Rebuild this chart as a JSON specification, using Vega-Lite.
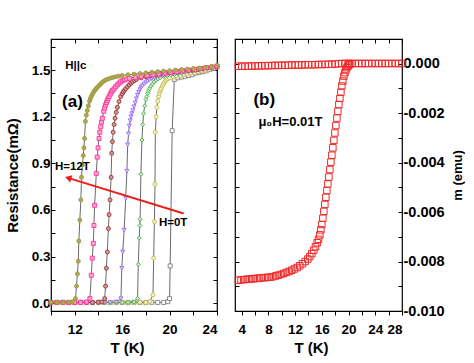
{
  "$schema": "https://vega.github.io/schema/vega-lite/v6.json",
  "background": "white",
  "padding": {"left": 4, "top": 37, "right": 0, "bottom": 0},
  "config": {
    "font": "Liberation Sans",
    "view": {"stroke": "black", "strokeWidth": 1.2},
    "axis": {"grid": false, "domain": false, "tickColor": "black", "tickWidth": 1, "labelFont": "Liberation Sans", "labelFontWeight": "bold", "labelColor": "black", "titleFont": "Liberation Sans", "titleFontWeight": "bold", "titleColor": "black", "labelFontSize": 13.5, "titleFontSize": 15}
  },
  "datasets": {
    "res": [
      {"h":"0T","t":10,"r":0.006},{"h":"0T","t":10.5,"r":0.004},{"h":"0T","t":11,"r":0.006},{"h":"0T","t":11.5,"r":0.005},{"h":"0T","t":12,"r":0.004},{"h":"0T","t":12.5,"r":0.006},{"h":"0T","t":13,"r":0.005},{"h":"0T","t":13.5,"r":0.004},{"h":"0T","t":14,"r":0.006},{"h":"0T","t":14.5,"r":0.005},{"h":"0T","t":15,"r":0.004},{"h":"0T","t":15.5,"r":0.006},{"h":"0T","t":16,"r":0.005},{"h":"0T","t":16.5,"r":0.004},{"h":"0T","t":17,"r":0.006},{"h":"0T","t":17.5,"r":0.005},{"h":"0T","t":18,"r":0.004},{"h":"0T","t":18.5,"r":0.006},{"h":"0T","t":19,"r":0.005},{"h":"0T","t":19.5,"r":0.005},{"h":"0T","t":19.85,"r":0.01},{"h":"0T","t":20.0,"r":0.03},{"h":"0T","t":20.05,"r":0.24},{"h":"0T","t":20.22,"r":1.11},{"h":"0T","t":20.4,"r":1.44},{"h":"0T","t":20.7,"r":1.45},{"h":"0T","t":21.0,"r":1.455},{"h":"0T","t":21.3,"r":1.46},{"h":"0T","t":21.6,"r":1.465},{"h":"0T","t":21.9,"r":1.47},{"h":"0T","t":22.2,"r":1.48},{"h":"0T","t":22.5,"r":1.485},{"h":"0T","t":22.8,"r":1.49},{"h":"0T","t":23.1,"r":1.495},{"h":"0T","t":23.4,"r":1.505},{"h":"0T","t":23.7,"r":1.51},{"h":"0T","t":24.0,"r":1.52},
      {"h":"1T","t":10,"r":0.005},{"h":"1T","t":10.5,"r":0.006},{"h":"1T","t":11,"r":0.004},{"h":"1T","t":11.5,"r":0.006},{"h":"1T","t":12,"r":0.005},{"h":"1T","t":12.5,"r":0.004},{"h":"1T","t":13,"r":0.006},{"h":"1T","t":13.5,"r":0.005},{"h":"1T","t":14,"r":0.004},{"h":"1T","t":14.5,"r":0.006},{"h":"1T","t":15,"r":0.005},{"h":"1T","t":15.5,"r":0.004},{"h":"1T","t":16,"r":0.006},{"h":"1T","t":16.5,"r":0.005},{"h":"1T","t":17,"r":0.004},{"h":"1T","t":17.5,"r":0.006},{"h":"1T","t":18,"r":0.005},{"h":"1T","t":18.35,"r":0.012},{"h":"1T","t":18.6,"r":0.054},{"h":"1T","t":18.66,"r":0.29},{"h":"1T","t":18.72,"r":0.525},{"h":"1T","t":18.77,"r":0.765},{"h":"1T","t":18.8,"r":1.1},{"h":"1T","t":18.87,"r":1.2},{"h":"1T","t":18.93,"r":1.26},{"h":"1T","t":19.0,"r":1.3},{"h":"1T","t":19.07,"r":1.33},{"h":"1T","t":19.14,"r":1.35},{"h":"1T","t":19.21,"r":1.367},{"h":"1T","t":19.28,"r":1.38},{"h":"1T","t":19.38,"r":1.397},{"h":"1T","t":19.48,"r":1.41},{"h":"1T","t":19.6,"r":1.424},{"h":"1T","t":19.7,"r":1.435},{"h":"1T","t":19.85,"r":1.443},{"h":"1T","t":20.0,"r":1.45},{"h":"1T","t":20.3,"r":1.455},{"h":"1T","t":20.6,"r":1.46},{"h":"1T","t":20.9,"r":1.465},{"h":"1T","t":21.2,"r":1.47},{"h":"1T","t":21.5,"r":1.475},{"h":"1T","t":21.8,"r":1.48},{"h":"1T","t":22.1,"r":1.485},{"h":"1T","t":22.4,"r":1.49},{"h":"1T","t":22.7,"r":1.495},{"h":"1T","t":23.0,"r":1.5},{"h":"1T","t":23.3,"r":1.505},{"h":"1T","t":23.6,"r":1.515},{"h":"1T","t":24.0,"r":1.525},
      {"h":"3T","t":10,"r":0.004},{"h":"3T","t":10.5,"r":0.005},{"h":"3T","t":11,"r":0.006},{"h":"3T","t":11.5,"r":0.004},{"h":"3T","t":12,"r":0.006},{"h":"3T","t":12.5,"r":0.005},{"h":"3T","t":13,"r":0.004},{"h":"3T","t":13.5,"r":0.006},{"h":"3T","t":14,"r":0.005},{"h":"3T","t":14.5,"r":0.004},{"h":"3T","t":15,"r":0.006},{"h":"3T","t":15.5,"r":0.005},{"h":"3T","t":16,"r":0.004},{"h":"3T","t":16.5,"r":0.006},{"h":"3T","t":17,"r":0.008},{"h":"3T","t":17.3,"r":0.03},{"h":"3T","t":17.36,"r":0.25},{"h":"3T","t":17.44,"r":0.42},{"h":"3T","t":17.49,"r":0.5},{"h":"3T","t":17.52,"r":0.54},{"h":"3T","t":17.58,"r":0.83},{"h":"3T","t":17.67,"r":1.05},{"h":"3T","t":17.74,"r":1.15},{"h":"3T","t":17.81,"r":1.22},{"h":"3T","t":17.9,"r":1.27},{"h":"3T","t":18.0,"r":1.31},{"h":"3T","t":18.08,"r":1.33},{"h":"3T","t":18.15,"r":1.35},{"h":"3T","t":18.22,"r":1.365},{"h":"3T","t":18.3,"r":1.38},{"h":"3T","t":18.42,"r":1.396},{"h":"3T","t":18.55,"r":1.41},{"h":"3T","t":18.7,"r":1.424},{"h":"3T","t":18.86,"r":1.435},{"h":"3T","t":19.02,"r":1.443},{"h":"3T","t":19.2,"r":1.45},{"h":"3T","t":19.5,"r":1.46},{"h":"3T","t":19.8,"r":1.465},{"h":"3T","t":20.1,"r":1.47},{"h":"3T","t":20.4,"r":1.472},{"h":"3T","t":20.7,"r":1.476},{"h":"3T","t":21.0,"r":1.48},{"h":"3T","t":21.3,"r":1.485},{"h":"3T","t":21.6,"r":1.49},{"h":"3T","t":21.9,"r":1.492},{"h":"3T","t":22.2,"r":1.496},{"h":"3T","t":22.5,"r":1.5},{"h":"3T","t":22.8,"r":1.505},{"h":"3T","t":23.1,"r":1.51},{"h":"3T","t":23.4,"r":1.515},{"h":"3T","t":23.7,"r":1.52},{"h":"3T","t":24.0,"r":1.525},
      {"h":"5T","t":10,"r":0.006},{"h":"5T","t":10.5,"r":0.005},{"h":"5T","t":11,"r":0.004},{"h":"5T","t":11.5,"r":0.006},{"h":"5T","t":12,"r":0.005},{"h":"5T","t":12.5,"r":0.004},{"h":"5T","t":13,"r":0.006},{"h":"5T","t":13.5,"r":0.005},{"h":"5T","t":14,"r":0.004},{"h":"5T","t":14.5,"r":0.006},{"h":"5T","t":15,"r":0.005},{"h":"5T","t":15.5,"r":0.007},{"h":"5T","t":15.9,"r":0.03},{"h":"5T","t":15.97,"r":0.225},{"h":"5T","t":16.05,"r":0.33},{"h":"5T","t":16.17,"r":0.47},{"h":"5T","t":16.3,"r":0.675},{"h":"5T","t":16.4,"r":0.85},{"h":"5T","t":16.47,"r":1.02},{"h":"5T","t":16.54,"r":1.09},{"h":"5T","t":16.6,"r":1.14},{"h":"5T","t":16.68,"r":1.175},{"h":"5T","t":16.75,"r":1.2},{"h":"5T","t":16.82,"r":1.22},{"h":"5T","t":16.9,"r":1.24},{"h":"5T","t":17.0,"r":1.265},{"h":"5T","t":17.1,"r":1.29},{"h":"5T","t":17.2,"r":1.316},{"h":"5T","t":17.3,"r":1.34},{"h":"5T","t":17.4,"r":1.358},{"h":"5T","t":17.5,"r":1.375},{"h":"5T","t":17.6,"r":1.388},{"h":"5T","t":17.7,"r":1.4},{"h":"5T","t":17.85,"r":1.411},{"h":"5T","t":18.0,"r":1.42},{"h":"5T","t":18.15,"r":1.429},{"h":"5T","t":18.3,"r":1.436},{"h":"5T","t":18.5,"r":1.444},{"h":"5T","t":18.7,"r":1.45},{"h":"5T","t":19.1,"r":1.46},{"h":"5T","t":19.5,"r":1.465},{"h":"5T","t":19.9,"r":1.47},{"h":"5T","t":20.3,"r":1.475},{"h":"5T","t":20.7,"r":1.48},{"h":"5T","t":21.1,"r":1.485},{"h":"5T","t":21.5,"r":1.49},{"h":"5T","t":21.9,"r":1.495},{"h":"5T","t":22.3,"r":1.5},{"h":"5T","t":22.7,"r":1.505},{"h":"5T","t":23.1,"r":1.51},{"h":"5T","t":23.5,"r":1.515},{"h":"5T","t":24.0,"r":1.525},
      {"h":"7T","t":10,"r":0.005},{"h":"7T","t":10.5,"r":0.004},{"h":"7T","t":11,"r":0.006},{"h":"7T","t":11.5,"r":0.005},{"h":"7T","t":12,"r":0.004},{"h":"7T","t":12.5,"r":0.006},{"h":"7T","t":13,"r":0.005},{"h":"7T","t":13.5,"r":0.004},{"h":"7T","t":14,"r":0.006},{"h":"7T","t":14.3,"r":0.008},{"h":"7T","t":14.53,"r":0.03},{"h":"7T","t":14.6,"r":0.11},{"h":"7T","t":14.67,"r":0.225},{"h":"7T","t":14.75,"r":0.33},{"h":"7T","t":14.84,"r":0.48},{"h":"7T","t":14.9,"r":0.57},{"h":"7T","t":14.98,"r":0.665},{"h":"7T","t":15.07,"r":0.81},{"h":"7T","t":15.12,"r":0.965},{"h":"7T","t":15.18,"r":1.04},{"h":"7T","t":15.24,"r":1.1},{"h":"7T","t":15.32,"r":1.15},{"h":"7T","t":15.4,"r":1.19},{"h":"7T","t":15.5,"r":1.228},{"h":"7T","t":15.6,"r":1.26},{"h":"7T","t":15.74,"r":1.298},{"h":"7T","t":15.88,"r":1.33},{"h":"7T","t":16.0,"r":1.347},{"h":"7T","t":16.1,"r":1.36},{"h":"7T","t":16.2,"r":1.371},{"h":"7T","t":16.3,"r":1.38},{"h":"7T","t":16.45,"r":1.393},{"h":"7T","t":16.6,"r":1.405},{"h":"7T","t":16.75,"r":1.416},{"h":"7T","t":16.88,"r":1.425},{"h":"7T","t":17.05,"r":1.433},{"h":"7T","t":17.2,"r":1.44},{"h":"7T","t":17.6,"r":1.45},{"h":"7T","t":18.0,"r":1.458},{"h":"7T","t":18.4,"r":1.464},{"h":"7T","t":18.8,"r":1.47},{"h":"7T","t":19.2,"r":1.475},{"h":"7T","t":19.6,"r":1.48},{"h":"7T","t":20.0,"r":1.484},{"h":"7T","t":20.4,"r":1.488},{"h":"7T","t":20.8,"r":1.49},{"h":"7T","t":21.2,"r":1.495},{"h":"7T","t":21.6,"r":1.498},{"h":"7T","t":22.0,"r":1.5},{"h":"7T","t":22.4,"r":1.505},{"h":"7T","t":22.8,"r":1.51},{"h":"7T","t":23.2,"r":1.515},{"h":"7T","t":23.6,"r":1.52},{"h":"7T","t":24.0,"r":1.525},
      {"h":"9T","t":10,"r":0.004},{"h":"9T","t":10.5,"r":0.006},{"h":"9T","t":11,"r":0.005},{"h":"9T","t":11.5,"r":0.004},{"h":"9T","t":12,"r":0.006},{"h":"9T","t":12.5,"r":0.005},{"h":"9T","t":13,"r":0.008},{"h":"9T","t":13.28,"r":0.03},{"h":"9T","t":13.4,"r":0.18},{"h":"9T","t":13.48,"r":0.29},{"h":"9T","t":13.57,"r":0.385},{"h":"9T","t":13.62,"r":0.5},{"h":"9T","t":13.68,"r":0.63},{"h":"9T","t":13.82,"r":0.835},{"h":"9T","t":13.9,"r":0.94},{"h":"9T","t":13.97,"r":1.0},{"h":"9T","t":14.05,"r":1.06},{"h":"9T","t":14.12,"r":1.1},{"h":"9T","t":14.19,"r":1.135},{"h":"9T","t":14.26,"r":1.165},{"h":"9T","t":14.33,"r":1.19},{"h":"9T","t":14.45,"r":1.235},{"h":"9T","t":14.52,"r":1.256},{"h":"9T","t":14.6,"r":1.275},{"h":"9T","t":14.68,"r":1.291},{"h":"9T","t":14.75,"r":1.305},{"h":"9T","t":14.82,"r":1.318},{"h":"9T","t":14.9,"r":1.33},{"h":"9T","t":15.0,"r":1.346},{"h":"9T","t":15.1,"r":1.36},{"h":"9T","t":15.2,"r":1.37},{"h":"9T","t":15.32,"r":1.38},{"h":"9T","t":15.46,"r":1.393},{"h":"9T","t":15.6,"r":1.405},{"h":"9T","t":15.74,"r":1.416},{"h":"9T","t":15.88,"r":1.425},{"h":"9T","t":16.04,"r":1.432},{"h":"9T","t":16.2,"r":1.437},{"h":"9T","t":16.4,"r":1.442},{"h":"9T","t":16.6,"r":1.447},{"h":"9T","t":17.1,"r":1.455},{"h":"9T","t":17.6,"r":1.46},{"h":"9T","t":18.1,"r":1.466},{"h":"9T","t":18.6,"r":1.47},{"h":"9T","t":19.1,"r":1.475},{"h":"9T","t":19.6,"r":1.48},{"h":"9T","t":20.1,"r":1.485},{"h":"9T","t":20.6,"r":1.49},{"h":"9T","t":21.1,"r":1.495},{"h":"9T","t":21.6,"r":1.5},{"h":"9T","t":22.1,"r":1.505},{"h":"9T","t":22.6,"r":1.51},{"h":"9T","t":23.1,"r":1.515},{"h":"9T","t":23.6,"r":1.52},{"h":"9T","t":24.0,"r":1.525},
      {"h":"12T","t":10,"r":0.006},{"h":"12T","t":10.5,"r":0.005},{"h":"12T","t":11,"r":0.004},{"h":"12T","t":11.5,"r":0.006},{"h":"12T","t":11.8,"r":0.01},{"h":"12T","t":12.07,"r":0.03},{"h":"12T","t":12.15,"r":0.11},{"h":"12T","t":12.23,"r":0.19},{"h":"12T","t":12.3,"r":0.27},{"h":"12T","t":12.35,"r":0.4},{"h":"12T","t":12.43,"r":0.535},{"h":"12T","t":12.52,"r":0.665},{"h":"12T","t":12.57,"r":0.81},{"h":"12T","t":12.65,"r":0.89},{"h":"12T","t":12.72,"r":0.95},{"h":"12T","t":12.78,"r":1.0},{"h":"12T","t":12.83,"r":1.06},{"h":"12T","t":12.9,"r":1.17},{"h":"12T","t":12.98,"r":1.21},{"h":"12T","t":13.06,"r":1.24},{"h":"12T","t":13.15,"r":1.27},{"h":"12T","t":13.25,"r":1.3},{"h":"12T","t":13.32,"r":1.316},{"h":"12T","t":13.4,"r":1.33},{"h":"12T","t":13.5,"r":1.346},{"h":"12T","t":13.6,"r":1.36},{"h":"12T","t":13.7,"r":1.37},{"h":"12T","t":13.8,"r":1.38},{"h":"12T","t":13.92,"r":1.39},{"h":"12T","t":14.05,"r":1.4},{"h":"12T","t":14.18,"r":1.41},{"h":"12T","t":14.3,"r":1.42},{"h":"12T","t":14.45,"r":1.428},{"h":"12T","t":14.6,"r":1.436},{"h":"12T","t":14.8,"r":1.442},{"h":"12T","t":15.0,"r":1.448},{"h":"12T","t":15.2,"r":1.452},{"h":"12T","t":15.45,"r":1.457},{"h":"12T","t":15.7,"r":1.461},{"h":"12T","t":16.0,"r":1.465},{"h":"12T","t":16.5,"r":1.47},{"h":"12T","t":17.0,"r":1.474},{"h":"12T","t":17.5,"r":1.478},{"h":"12T","t":18.0,"r":1.482},{"h":"12T","t":18.5,"r":1.486},{"h":"12T","t":19.0,"r":1.49},{"h":"12T","t":19.5,"r":1.493},{"h":"12T","t":20.0,"r":1.496},{"h":"12T","t":20.5,"r":1.5},{"h":"12T","t":21.0,"r":1.503},{"h":"12T","t":21.5,"r":1.506},{"h":"12T","t":22.0,"r":1.51},{"h":"12T","t":22.5,"r":1.513},{"h":"12T","t":23.0,"r":1.517},{"h":"12T","t":23.5,"r":1.522},{"h":"12T","t":24.0,"r":1.53}
    ],
    "mag": [
      {"b":"fc","t":3.5,"m":-0.0001},{"b":"fc","t":4,"m":-0.0001},{"b":"fc","t":4.5,"m":-0.0001},{"b":"fc","t":5,"m":-0.0001},{"b":"fc","t":5.5,"m":-0.00009},{"b":"fc","t":6,"m":-0.00009},{"b":"fc","t":6.5,"m":-0.00009},{"b":"fc","t":7,"m":-0.00008},{"b":"fc","t":7.5,"m":-0.00008},{"b":"fc","t":8,"m":-0.00008},{"b":"fc","t":8.5,"m":-0.00007},{"b":"fc","t":9,"m":-0.00007},{"b":"fc","t":9.5,"m":-0.00007},{"b":"fc","t":10,"m":-0.00006},{"b":"fc","t":10.5,"m":-0.00006},{"b":"fc","t":11,"m":-0.00006},{"b":"fc","t":11.5,"m":-0.00005},{"b":"fc","t":12,"m":-0.00005},{"b":"fc","t":12.5,"m":-0.00005},{"b":"fc","t":13,"m":-0.00005},{"b":"fc","t":13.5,"m":-0.00004},{"b":"fc","t":14,"m":-0.00004},{"b":"fc","t":14.5,"m":-0.00004},{"b":"fc","t":15,"m":-0.00004},{"b":"fc","t":15.5,"m":-0.00003},{"b":"fc","t":16,"m":-0.00003},{"b":"fc","t":16.5,"m":-0.00003},{"b":"fc","t":17,"m":-0.00002},{"b":"fc","t":17.5,"m":-0.00002},{"b":"fc","t":18,"m":-0.00001},{"b":"fc","t":18.5,"m":0},{"b":"fc","t":19,"m":0.00001},{"b":"fc","t":19.5,"m":0.00001},{"b":"fc","t":20,"m":0.00002},{"b":"fc","t":20.5,"m":0.00001},{"b":"fc","t":21,"m":0.00001},{"b":"fc","t":21.5,"m":0.00001},{"b":"fc","t":22,"m":0.00001},{"b":"fc","t":22.5,"m":0.00001},{"b":"fc","t":23,"m":0.00001},{"b":"fc","t":23.5,"m":0.00001},{"b":"fc","t":24,"m":0.00001},{"b":"fc","t":24.5,"m":0.00001},{"b":"fc","t":25,"m":0.00001},{"b":"fc","t":25.5,"m":0.00001},{"b":"fc","t":26,"m":0.00001},{"b":"fc","t":26.5,"m":0.00001},{"b":"fc","t":27,"m":0.00001},{"b":"fc","t":27.5,"m":0.00001},{"b":"fc","t":28,"m":0.00001},
      {"b":"zfc","t":3.5,"m":-0.00876},{"b":"zfc","t":3.9,"m":-0.00874},{"b":"zfc","t":4.3,"m":-0.00873},{"b":"zfc","t":4.7,"m":-0.00872},{"b":"zfc","t":5.1,"m":-0.00871},{"b":"zfc","t":5.5,"m":-0.0087},{"b":"zfc","t":5.9,"m":-0.00869},{"b":"zfc","t":6.3,"m":-0.00868},{"b":"zfc","t":6.7,"m":-0.00867},{"b":"zfc","t":7.1,"m":-0.00866},{"b":"zfc","t":7.5,"m":-0.00865},{"b":"zfc","t":7.9,"m":-0.00864},{"b":"zfc","t":8.3,"m":-0.00863},{"b":"zfc","t":8.7,"m":-0.00861},{"b":"zfc","t":9.1,"m":-0.00858},{"b":"zfc","t":9.5,"m":-0.00855},{"b":"zfc","t":9.9,"m":-0.00852},{"b":"zfc","t":10.3,"m":-0.00848},{"b":"zfc","t":10.7,"m":-0.00844},{"b":"zfc","t":11.1,"m":-0.0084},{"b":"zfc","t":11.5,"m":-0.00835},{"b":"zfc","t":11.9,"m":-0.0083},{"b":"zfc","t":12.3,"m":-0.00824},{"b":"zfc","t":12.7,"m":-0.00817},{"b":"zfc","t":13.1,"m":-0.00809},{"b":"zfc","t":13.5,"m":-0.008},{"b":"zfc","t":13.9,"m":-0.0079},{"b":"zfc","t":14.2,"m":-0.0078},{"b":"zfc","t":14.5,"m":-0.00768},{"b":"zfc","t":14.8,"m":-0.00754},{"b":"zfc","t":15.05,"m":-0.0074},{"b":"zfc","t":15.3,"m":-0.00724},{"b":"zfc","t":15.5,"m":-0.0071},{"b":"zfc","t":15.7,"m":-0.00692},{"b":"zfc","t":15.85,"m":-0.00672},{"b":"zfc","t":16.0,"m":-0.0065},{"b":"zfc","t":16.15,"m":-0.00625},{"b":"zfc","t":16.3,"m":-0.00597},{"b":"zfc","t":16.45,"m":-0.00569},{"b":"zfc","t":16.6,"m":-0.0054},{"b":"zfc","t":16.75,"m":-0.00513},{"b":"zfc","t":16.9,"m":-0.00486},{"b":"zfc","t":17.05,"m":-0.00458},{"b":"zfc","t":17.2,"m":-0.00428},{"b":"zfc","t":17.35,"m":-0.00398},{"b":"zfc","t":17.5,"m":-0.0037},{"b":"zfc","t":17.65,"m":-0.0034},{"b":"zfc","t":17.8,"m":-0.0031},{"b":"zfc","t":17.95,"m":-0.0028},{"b":"zfc","t":18.1,"m":-0.0025},{"b":"zfc","t":18.25,"m":-0.0022},{"b":"zfc","t":18.4,"m":-0.00192},{"b":"zfc","t":18.55,"m":-0.00165},{"b":"zfc","t":18.7,"m":-0.0014},{"b":"zfc","t":18.85,"m":-0.00115},{"b":"zfc","t":19.0,"m":-0.0009},{"b":"zfc","t":19.15,"m":-0.0007},{"b":"zfc","t":19.3,"m":-0.0005},{"b":"zfc","t":19.45,"m":-0.00036},{"b":"zfc","t":19.6,"m":-0.00025},{"b":"zfc","t":19.75,"m":-0.00016},{"b":"zfc","t":19.9,"m":-0.0001},{"b":"zfc","t":20.05,"m":-0.00005},{"b":"zfc","t":20.2,"m":-0.00002}
    ]
  },
  "spacing": 18,
  "bounds": "flush",
  "hconcat": [
    {
      "width": 166,
      "height": 272,
      "resolve": {"axis": {"x": "independent", "y": "independent"}},
      "layer": [
        {
          "data": {"name": "res"},
          "mark": {"type": "line", "color": "#444444", "strokeWidth": 0.8},
          "encoding": {
            "x": {"field": "t", "type": "quantitative", "scale": {"domain": [10, 24], "nice": false, "zero": false},
              "axis": {"orient": "bottom", "values": [10, 12, 14, 16, 18, 20, 22, 24], "labelExpr": "datum.value % 4 == 0 && datum.value > 10 ? datum.label : ''", "tickSize": 4, "labelPadding": 7, "title": "T (K)", "titlePadding": 5, "titleX": 76}},
            "y": {"field": "r", "type": "quantitative", "scale": {"domain": [-0.05, 1.7], "nice": false, "zero": false},
              "axis": {"orient": "left", "values": [0, 0.15, 0.3, 0.45, 0.6, 0.75, 0.9, 1.05, 1.2, 1.35, 1.5, 1.65], "labelExpr": "round(datum.value*100) % 30 == 0 ? format(datum.value, '.1f') : ''", "tickSize": -4, "labelPadding": 5, "title": "Resistance(mΩ)", "titlePadding": 11}},
            "detail": {"field": "h", "type": "nominal"},
            "order": {"field": "t", "type": "quantitative"}
          }
        },
        {
          "data": {"name": "res"},
          "mark": {"type": "point", "size": 16, "strokeWidth": 0.9, "opacity": 1},
          "encoding": {
            "x": {"field": "t", "type": "quantitative", "scale": {"domain": [10, 24], "nice": false, "zero": false}, "axis": null},
            "y": {"field": "r", "type": "quantitative", "scale": {"domain": [-0.05, 1.7], "nice": false, "zero": false}, "axis": null},
            "stroke": {"field": "h", "type": "nominal", "legend": null, "scale": {"domain": ["0T", "1T", "3T", "5T", "7T", "9T", "12T"], "range": ["#808080", "#c4bc4c", "#3fae3f", "#9966ff", "#993333", "#ff3399", "#9c963a"]}},
            "fill": {"field": "h", "type": "nominal", "legend": null, "scale": {"domain": ["0T", "1T", "3T", "5T", "7T", "9T", "12T"], "range": ["#ffffff", "#f2efcc", "#d4efd4", "#e6dcff", "#d49a9a", "#ffa8d2", "#b0aa55"]}},
            "shape": {"field": "h", "type": "nominal", "legend": null, "scale": {"domain": ["0T", "1T", "3T", "5T", "7T", "9T", "12T"], "range": ["square", "circle", "diamond", "triangle-down", "circle", "square", "circle"]}}
          }
        },
        {
          "data": {"name": "res"},
          "mark": {"type": "point", "opacity": 0},
          "encoding": {
            "x": {"field": "t", "type": "quantitative", "scale": {"domain": [10, 24], "nice": false, "zero": false},
              "axis": {"orient": "top", "values": [10, 12, 14, 16, 18, 20, 22, 24], "labels": false, "tickSize": -4, "title": null}},
            "y": {"field": "r", "type": "quantitative", "scale": {"domain": [-0.05, 1.7], "nice": false, "zero": false},
              "axis": {"orient": "right", "values": [0, 0.15, 0.3, 0.45, 0.6, 0.75, 0.9, 1.05, 1.2, 1.35, 1.5, 1.65], "labels": false, "tickSize": -4, "title": null}}
          }
        },
        {
          "data": {"values": [{"x1": 21.19, "y1": 0.577, "x2": 11.5, "y2": 0.805}]},
          "mark": {"type": "rule", "color": "#e8201c", "strokeWidth": 2},
          "encoding": {
            "x": {"field": "x1", "type": "quantitative", "scale": {"domain": [10, 24], "nice": false, "zero": false}, "axis": null},
            "y": {"field": "y1", "type": "quantitative", "scale": {"domain": [-0.05, 1.7], "nice": false, "zero": false}, "axis": null},
            "x2": {"field": "x2"},
            "y2": {"field": "y2"}
          }
        },
        {
          "data": {"values": [{"x": 11.45, "y": 0.806}]},
          "mark": {"type": "point", "shape": "triangle-up", "filled": true, "color": "#e8201c", "size": 55, "angle": 287, "opacity": 1},
          "encoding": {
            "x": {"field": "x", "type": "quantitative", "scale": {"domain": [10, 24], "nice": false, "zero": false}, "axis": null},
            "y": {"field": "y", "type": "quantitative", "scale": {"domain": [-0.05, 1.7], "nice": false, "zero": false}, "axis": null}
          }
        },
        {
          "data": {"values": [{"x": 11.2, "y": 1.528, "txt": "H||c"}, {"x": 10.34, "y": 0.876, "txt": "H=12T"}, {"x": 19.1, "y": 0.513, "txt": "H=0T"}]},
          "mark": {"type": "text", "align": "left", "baseline": "middle", "fontSize": 11.5, "fontWeight": "bold", "color": "black", "font": "Liberation Sans"},
          "encoding": {
            "x": {"field": "x", "type": "quantitative", "scale": {"domain": [10, 24], "nice": false, "zero": false}, "axis": null},
            "y": {"field": "y", "type": "quantitative", "scale": {"domain": [-0.05, 1.7], "nice": false, "zero": false}, "axis": null},
            "text": {"field": "txt"}
          }
        },
        {
          "data": {"values": [{"x": 10.93, "y": 1.293, "txt": "(a)"}]},
          "mark": {"type": "text", "align": "left", "baseline": "middle", "fontSize": 17, "fontWeight": "bold", "color": "black", "font": "Liberation Sans"},
          "encoding": {
            "x": {"field": "x", "type": "quantitative", "scale": {"domain": [10, 24], "nice": false, "zero": false}, "axis": null},
            "y": {"field": "y", "type": "quantitative", "scale": {"domain": [-0.05, 1.7], "nice": false, "zero": false}, "axis": null},
            "text": {"field": "txt"}
          }
        }
      ]
    },
    {
      "width": 167,
      "height": 272,
      "resolve": {"axis": {"x": "independent", "y": "independent"}},
      "layer": [
        {
          "data": {"name": "mag"},
          "mark": {"type": "point", "shape": "square", "filled": false, "color": "#f02828", "size": 42, "strokeWidth": 1, "opacity": 1},
          "encoding": {
            "x": {"field": "t", "type": "quantitative", "scale": {"domain": [3, 28], "nice": false, "zero": false},
              "axis": {"orient": "bottom", "values": [4, 6, 8, 10, 12, 14, 16, 18, 20, 22, 24, 26, 28], "labelExpr": "datum.value % 4 == 0 ? datum.label : ''", "tickSize": 4, "labelPadding": 7, "title": "T (K)", "titlePadding": 5, "titleX": 76}},
            "y": {"field": "m", "type": "quantitative", "scale": {"domain": [-0.01, 0.001], "nice": false, "zero": false},
              "axis": {"orient": "right", "values": [-0.01, -0.009, -0.008, -0.007, -0.006, -0.005, -0.004, -0.003, -0.002, -0.001, 0, 0.001], "labelExpr": "round(datum.value*1000) % 2 == 0 && datum.value < 0.0005 ? replace(format(datum.value, '.3f'), '\u2212', '-') : ''", "tickSize": -4, "labelPadding": 5, "labelFontSize": 14.5, "title": "m (emu)", "titleFontSize": 13, "titleAngle": 270, "titleBaseline": "top", "titlePadding": 7}}
          }
        },
        {
          "data": {"name": "mag"},
          "mark": {"type": "point", "opacity": 0},
          "encoding": {
            "x": {"field": "t", "type": "quantitative", "scale": {"domain": [3, 28], "nice": false, "zero": false},
              "axis": {"orient": "top", "values": [4, 6, 8, 10, 12, 14, 16, 18, 20, 22, 24, 26, 28], "labels": false, "tickSize": -4, "title": null}},
            "y": {"field": "m", "type": "quantitative", "scale": {"domain": [-0.01, 0.001], "nice": false, "zero": false},
              "axis": {"orient": "left", "values": [-0.01, -0.009, -0.008, -0.007, -0.006, -0.005, -0.004, -0.003, -0.002, -0.001, 0, 0.001], "labels": false, "tickSize": -4, "title": null}}
          }
        },
        {
          "data": {"values": [{"x": 5.76, "y": -0.00148, "txt": "(b)"}]},
          "mark": {"type": "text", "align": "left", "baseline": "middle", "fontSize": 17, "fontWeight": "bold", "color": "black", "font": "Liberation Sans"},
          "encoding": {
            "x": {"field": "x", "type": "quantitative", "scale": {"domain": [3, 28], "nice": false, "zero": false}, "axis": null},
            "y": {"field": "y", "type": "quantitative", "scale": {"domain": [-0.01, 0.001], "nice": false, "zero": false}, "axis": null},
            "text": {"field": "txt"}
          }
        },
        {
          "data": {"values": [{"x": 6.5, "y": -0.00236, "txt": "μ₀H=0.01T"}]},
          "mark": {"type": "text", "align": "left", "baseline": "middle", "fontSize": 13, "fontWeight": "bold", "color": "black", "font": "Liberation Sans"},
          "encoding": {
            "x": {"field": "x", "type": "quantitative", "scale": {"domain": [3, 28], "nice": false, "zero": false}, "axis": null},
            "y": {"field": "y", "type": "quantitative", "scale": {"domain": [-0.01, 0.001], "nice": false, "zero": false}, "axis": null},
            "text": {"field": "txt"}
          }
        }
      ]
    }
  ]
}
